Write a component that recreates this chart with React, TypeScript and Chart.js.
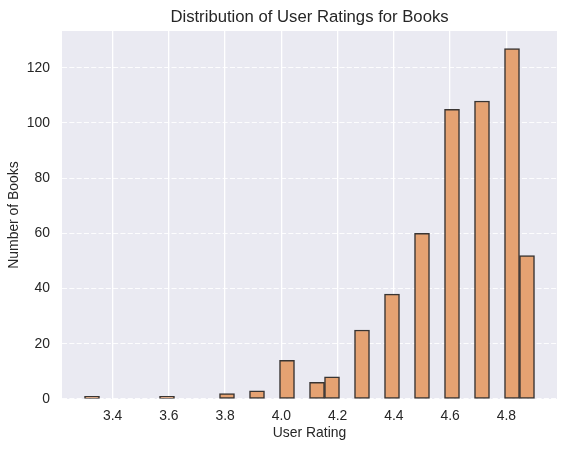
import { useEffect, useRef } from "react";
import { Chart, registerables } from "chart.js";

Chart.register(...registerables);

// Histogram of user ratings: 30 equal bins between the min and max rating
const binStart = 3.3;
const binEnd = 4.9;
const binCounts = [
  1, 0, 0, 0, 0, 1, 0, 0, 0, 2, 0, 3, 0, 14, 0, 6, 8, 0, 25, 0, 38, 0, 60, 0, 105, 0, 108, 0, 127, 52,
];
const xTickValues = [3.4, 3.6, 3.8, 4.0, 4.2, 4.4, 4.6, 4.8];
const yTickValues = [0, 20, 40, 60, 80, 100, 120];

const FONT = "'Liberation Sans', Arial, sans-serif";
const TEXT = "#262626";

const bgPlugin = {
  id: "bgPlugin",
  beforeDraw(chart: any) {
    const { ctx, chartArea } = chart;
    ctx.save();
    ctx.fillStyle = "#ffffff";
    ctx.fillRect(0, 0, chart.width, chart.height);
    ctx.fillStyle = "#eaeaf2";
    ctx.fillRect(chartArea.left, chartArea.top, chartArea.right - chartArea.left, chartArea.bottom - chartArea.top);
    ctx.restore();
  },
};

export default function App() {
  const ref = useRef<HTMLCanvasElement | null>(null);

  useEffect(() => {
    document.body.style.margin = "0";
    const canvas = ref.current;
    if (!canvas) return;
    const n = binCounts.length;
    const w = (binEnd - binStart) / n;
    const span = binEnd - binStart;
    const data = binCounts.map((c, i) => ({ x: binStart + (i + 0.5) * w, y: c }));
    const yMax = Math.max(...binCounts) * 1.05;

    const chart = new Chart(canvas, {
      type: "bar",
      data: {
        datasets: [
          {
            data: data as any,
            backgroundColor: "#e5a272",
            borderColor: "rgba(40,36,34,0.92)",
            borderWidth: 1.5,
            borderSkipped: false,
            barPercentage: 1,
            categoryPercentage: 1,
          },
        ],
      },
      options: {
        responsive: false,
        animation: false,
        devicePixelRatio: 1,
        layout: { padding: { left: 0, right: 9, top: 0, bottom: 0 } },
        plugins: {
          legend: { display: false },
          tooltip: { enabled: false },
          title: {
            display: true,
            fullSize: false,
            text: "Distribution of User Ratings for Books",
            color: TEXT,
            font: { family: FONT, size: 16.7, weight: "normal" },
            padding: { top: 7, bottom: 3.96 },
          },
        },
        scales: {
          x: {
            type: "linear",
            min: binStart - 0.05 * span,
            max: binEnd + 0.05 * span,
            offset: false,
            afterBuildTicks: (scale: any) => {
              scale.ticks = xTickValues.map((v) => ({ value: v }));
            },
            afterFit: (scale: any) => {
              scale.height = 50;
            },
            ticks: {
              color: TEXT,
              font: { family: FONT, size: 13.9 },
              padding: 8.5,
              autoSkip: false,
              maxRotation: 0,
              callback: (v: any) => Number(v).toFixed(1),
            },
            grid: { color: "#ffffff", lineWidth: 1.3, drawTicks: false, offset: false },
            border: { display: false },
            title: {
              display: true,
              text: "User Rating",
              color: TEXT,
              font: { family: FONT, size: 13.9 },
              padding: { top: 0, bottom: 7.6 },
            },
          },
          y: {
            type: "linear",
            min: 0,
            max: yMax,
            afterBuildTicks: (scale: any) => {
              scale.ticks = yTickValues.map((v) => ({ value: v }));
            },
            afterFit: (scale: any) => {
              scale.width = 62;
            },
            ticks: {
              color: TEXT,
              font: { family: FONT, size: 13.9 },
              padding: 12,
              autoSkip: false,
            },
            grid: {
              color: "rgba(255,255,255,0.9)",
              lineWidth: 1.1,
              drawTicks: false,
            },
            border: { display: false, dash: [5.1, 2.2] },
            title: {
              display: true,
              text: "Number of Books",
              color: TEXT,
              font: { family: FONT, size: 13.9 },
              padding: { top: 6, bottom: 0 },
            },
          },
        },
      },
      plugins: [bgPlugin],
    });
    return () => chart.destroy();
  }, []);

  return (
    <div style={{ width: 566, height: 449 }}>
      <canvas ref={ref} width={566} height={449} style={{ display: "block" }} />
    </div>
  );
}
